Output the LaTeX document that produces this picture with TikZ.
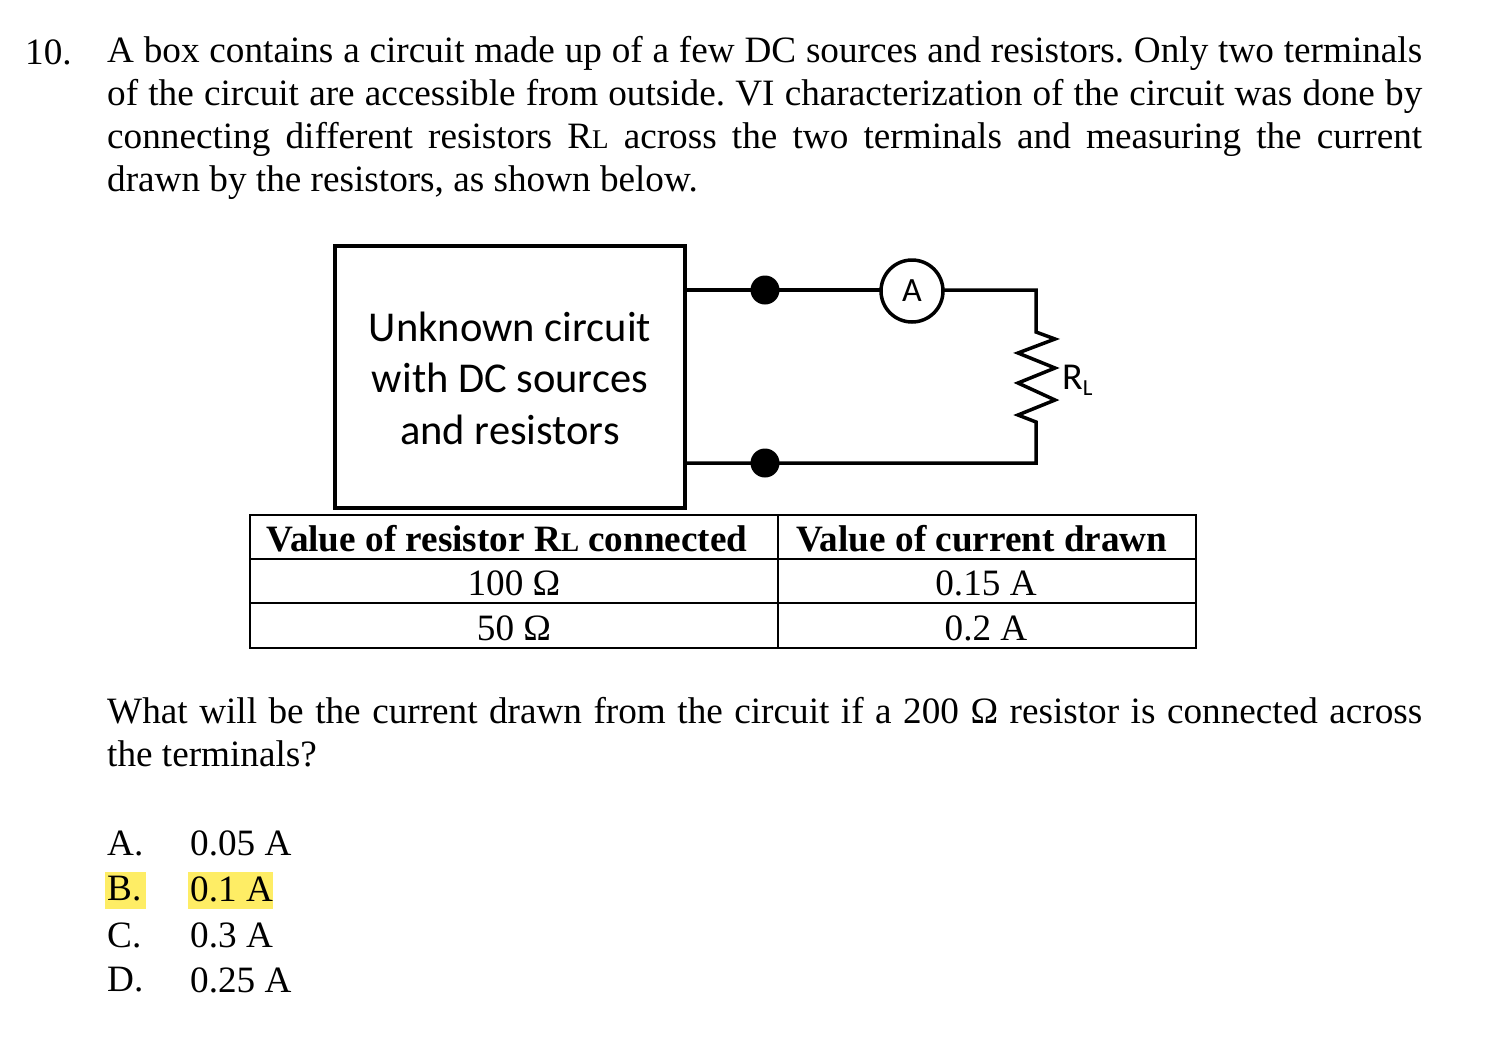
\documentclass[tikz,border=0pt]{standalone}
\usepackage{fontspec}
\setmainfont{Liberation Serif}
\newfontfamily\carlitofont{Carlito}
\frenchspacing
\begin{document}
\begin{tikzpicture}[x=1pt,y=-1pt,
  wire/.style={line width=3.5pt},
  txt/.style={inner sep=0pt,font=\fontsize{37.2}{43}\selectfont}]
\useasboundingbox (0,0) rectangle (1492,1045);
\node[txt,anchor=north west] (para) at (107,36)
{\parbox{1315pt}{\fontsize{37.2}{43}\selectfont A box contains a circuit made up of a few DC sources and resistors. Only two terminals\linebreak of the circuit are accessible from outside. VI characterization of the circuit was done by\linebreak connecting different resistors R{\fontsize{27}{27}\selectfont L} across the two terminals and measuring the current\linebreak drawn by the resistors, as shown below.}};
\node[txt,anchor=north west] (num) at (25,40) {10.};
% box
\draw[wire] (335,246) rectangle (685,508);
\node[inner sep=0pt,align=center,font=\carlitofont\fontsize{42.5}{51.5}\selectfont] (bt) at (510,378) {Unknown circuit\\with DC sources\\and resistors};
\draw[line width=3.5pt,fill=white] (912,291) circle (31);
\node[font=\carlitofont\fontsize{34}{34}\selectfont] (am) at (912,291) {A};
\coordinate (tl) at (685,290); \coordinate (bl) at (685,463);
\coordinate (d1) at (765,290); \coordinate (d2) at (765,463);
\draw[wire] (tl) -- (881,290);
\draw[wire] (943,290) -- (1036,290) -- (1036,332) -- (1055,339) -- (1018,353) -- (1055,368) -- (1018,383) -- (1055,400) -- (1018,415) -- (1036,422) -- (1036,463) -- (bl);
\fill (d1) circle (14.5); \fill (d2) circle (14.5);
\node[font=\carlitofont\fontsize{38}{38}\selectfont,anchor=west,inner sep=0pt] (rl) at (1062,380) {R\raisebox{-6pt}{\fontsize{23}{23}\selectfont L}};
% table
\draw[line width=1.5pt] (250,515) rectangle (1196,648);
\draw[line width=1.5pt] (250,559) -- (1196,559) (250,603) -- (1196,603) (778,515) -- (778,648);
\node[txt,font=\bfseries\fontsize{37.2}{37}\selectfont] (h1) at (507,539) {Value of resistor R{\fontsize{27}{27}\selectfont L} connected};
\node[txt,font=\bfseries\fontsize{37.2}{37}\selectfont] (h2) at (982,539) {Value of current drawn};
\node[txt] (c1) at (514,583) {100 Ω};
\node[txt] (c2) at (986,583) {0.15 A};
\node[txt] (c3) at (514,628) {50 Ω};
\node[txt] (c4) at (986,628) {0.2 A};
\node[txt,anchor=north west,text width=1315pt,align=justify] (q) at (107,697)
{What will be the current drawn from the circuit if a 200 Ω resistor is connected across\linebreak the terminals?};
\fill[yellow!85!orange!60] (105,872) rectangle (146,909);
\fill[yellow!85!orange!60] (188,872) rectangle (273,909);
\foreach \l/\v/\y in {A./0.05 A/843,B./0.1 A/889,C./0.3 A/935,D./0.25 A/980}{
  \node[txt,anchor=west] at (107,\y) {\l};
  \node[txt,anchor=west] at (190,\y) {\v};
}
\end{tikzpicture}
\end{document}
